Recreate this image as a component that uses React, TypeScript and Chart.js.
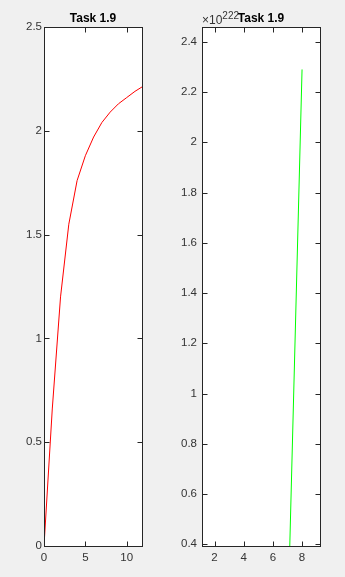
import React, { useEffect, useRef } from "react";
import { Chart, registerables } from "chart.js";
Chart.register(...registerables);

// ---- data ----
const leftX = [0, 1, 2, 3, 4, 5, 6, 7, 8, 9, 10, 11, 12];
const leftY = [0, 0.66, 1.2, 1.55, 1.76, 1.88, 1.97, 2.04, 2.09, 2.13, 2.16, 2.19, 2.215];
const leftXTicks = [0, 5, 10];
const leftYTicks = [0, 0.5, 1, 1.5, 2, 2.5];

const rightX = [7, 8];
const rightY = [0.04, 2.29];
const rightXTicks = [2, 4, 6, 8];
const rightYTicks = [0.4, 0.6, 0.8, 1, 1.2, 1.4, 1.6, 1.8, 2, 2.2, 2.4];

const titleText = "Task 1.9";
const exponentText = "222";

const FONT = "'Liberation Sans', Arial, Helvetica, sans-serif";
const AX = "#262626";
const LBL = "#333333";

const fmt = (v: number) => String(Number(v.toFixed(3)));

const matlabAxes = {
  id: "matlabAxes",
  beforeDatasetsDraw(chart: any) {
    const { ctx, chartArea: a } = chart;
    ctx.save();
    ctx.fillStyle = "#ffffff";
    ctx.fillRect(a.left, a.top, a.right - a.left, a.bottom - a.top);
    ctx.restore();
  },
  afterDatasetsDraw(chart: any, _args: any, opts: any) {
    const { ctx, chartArea: a, scales } = chart;
    const x = scales.x, y = scales.y;
    const L = Math.floor(a.left) + 0.5;
    const R = Math.floor(a.right) + 0.5;
    const T = Math.floor(a.top) + 0.5;
    const B = Math.floor(a.bottom) + 0.5;
    const tl = 5;
    ctx.save();
    ctx.strokeStyle = AX;
    ctx.lineWidth = 1;
    ctx.beginPath();
    for (const t of x.ticks) {
      const px = Math.round(x.getPixelForValue(t.value)) + 0.5;
      ctx.moveTo(px, B); ctx.lineTo(px, B - tl);
      ctx.moveTo(px, T); ctx.lineTo(px, T + tl);
    }
    for (const t of y.ticks) {
      const py = Math.round(y.getPixelForValue(t.value)) + 0.5;
      ctx.moveTo(L, py); ctx.lineTo(L + tl, py);
      ctx.moveTo(R, py); ctx.lineTo(R - tl, py);
    }
    ctx.stroke();
    ctx.strokeRect(L, T, R - L, B - T);

    if (opts.exponent) {
      ctx.fillStyle = LBL;
      ctx.textAlign = "left";
      ctx.textBaseline = "alphabetic";
      ctx.font = `12px ${FONT}`;
      const base = "\u00d710";
      ctx.fillText(base, a.left, 24);
      const w = ctx.measureText(base).width;
      ctx.font = `10px ${FONT}`;
      ctx.fillText(opts.exponent, a.left + w, 18.5);
    }

    // title
    ctx.fillStyle = "#000000";
    ctx.font = `bold 12px ${FONT}`;
    ctx.textAlign = "center";
    ctx.textBaseline = "alphabetic";
    ctx.fillText(opts.title, (a.left + a.right) / 2, 22);
    ctx.restore();
  },
};

function makeConfig(
  xs: number[], ys: number[], color: string,
  xMin: number, xMax: number, yMin: number, yMax: number,
  xTicks: number[], yTicks: number[],
  yAxisWidth: number, yPad: number, rightPad: number, exponent: string
): any {
  return {
    type: "line",
    data: {
      datasets: [
        {
          data: xs.map((v, i) => ({ x: v, y: ys[i] })),
          borderColor: color,
          borderWidth: 1,
          pointRadius: 0,
          tension: 0,
          fill: false,
        },
      ],
    },
    options: {
      responsive: false,
      animation: false,
      events: [],
      layout: { padding: { top: 27, right: rightPad, left: 0, bottom: 0 } },
      plugins: {
        legend: { display: false },
        tooltip: { enabled: false },
        title: { display: false },
        matlabAxes: { title: titleText, exponent },
      },
      scales: {
        x: {
          type: "linear",
          min: xMin,
          max: xMax,
          afterBuildTicks: (s: any) => { s.ticks = xTicks.map((v) => ({ value: v })); },
          afterFit: (s: any) => { s.height = 31; },
          grid: { display: false, drawTicks: false },
          border: { display: false },
          ticks: {
            autoSkip: false,
            maxRotation: 0,
            padding: 5,
            color: LBL,
            font: { family: FONT, size: 11.5 },
            callback: (v: number) => fmt(v),
          },
        },
        y: {
          type: "linear",
          min: yMin,
          max: yMax,
          afterBuildTicks: (s: any) => { s.ticks = yTicks.map((v) => ({ value: v })); },
          afterFit: (s: any) => { s.width = yAxisWidth; },
          grid: { display: false, drawTicks: false },
          border: { display: false },
          ticks: {
            autoSkip: false,
            padding: yPad,
            color: LBL,
            font: { family: FONT, size: 11.5 },
            callback: (v: number) => fmt(v),
          },
        },
      },
    },
    plugins: [matlabAxes],
  };
}

export default function App() {
  const leftRef = useRef<HTMLCanvasElement>(null);
  const rightRef = useRef<HTMLCanvasElement>(null);

  useEffect(() => {
    document.body.style.margin = "0";
    const c1 = new Chart(
      leftRef.current as HTMLCanvasElement,
      makeConfig(leftX, leftY, "#ff0000", 0, 11.85, 0, 2.5, leftXTicks, leftYTicks, 44, 2, 30, "")
    );
    const c2 = new Chart(
      rightRef.current as HTMLCanvasElement,
      makeConfig(rightX, rightY, "#00ff00", 1.14, 9.23, 0.393, 2.459, rightXTicks, rightYTicks, 30, 5, 25, exponentText)
    );
    return () => { c1.destroy(); c2.destroy(); };
  }, []);

  return (
    <div style={{ position: "fixed", left: 0, top: 0, width: 345, height: 577, background: "#f0f0f0", overflow: "hidden" }}>
      <canvas ref={leftRef} width={172} height={577} style={{ position: "absolute", left: 0, top: 0, width: 172, height: 577 }} />
      <canvas ref={rightRef} width={173} height={577} style={{ position: "absolute", left: 172, top: 0, width: 173, height: 577 }} />
    </div>
  );
}
